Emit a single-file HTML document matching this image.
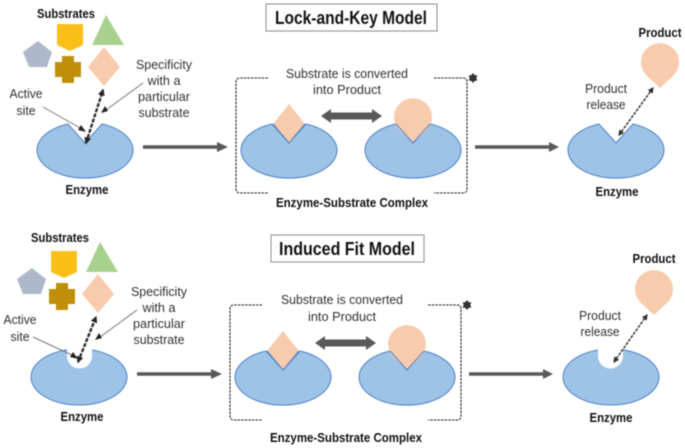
<!DOCTYPE html>
<html>
<head>
<meta charset="utf-8">
<style>
html,body{margin:0;padding:0;background:#fff;width:685px;height:448px;overflow:hidden}
svg{display:block;filter:blur(0.45px)}
text{font-family:"Liberation Sans",sans-serif;fill:#303030;text-anchor:middle}
.r{font-size:13px}
.b{font-size:13px;font-weight:bold;fill:#111}
.t{font-size:18px;font-weight:bold;fill:#111}
</style>
</head>
<body>
<svg width="685" height="448" viewBox="0 0 685 448" xmlns="http://www.w3.org/2000/svg">
<defs>
  <marker id="k" viewBox="0 0 10 10" refX="8" refY="5" markerWidth="3" markerHeight="3" orient="auto-start-reverse"><path d="M0,0L10,5L0,10Z" fill="#262626"/></marker>
  <marker id="k2" viewBox="0 0 10 10" refX="8" refY="5" markerWidth="4" markerHeight="4" orient="auto-start-reverse"><path d="M0,0L10,5L0,10Z" fill="#303030"/></marker>
  <path id="vE" d="M0,-7L-17,-26A48 28 0 1 0 17,-26Z" fill="#9DC3E6" stroke="#4F81C7" stroke-width="1"/>
  <path id="drop" d="M0,25L-14,12A19 19 0 1 1 14,12Z" fill="#F8CBAD"/>
  <g id="subs">
    <path d="M57,24H83V45L70,51L57,45Z" fill="#FBBF1A"/>
    <path d="M106,15L124,45H92Z" fill="#A9D18E"/>
    <path d="M38,41L52,52L47,67H29L23,52Z" fill="#ADB9CA"/>
    <path d="M62,56H74V62H81V77H74V83H62V77H55V62H62Z" fill="#BF8F0A"/>
    <path d="M104,47L120,67L104,86L88,67Z" fill="#F8CBAD"/>
  </g>
  <g id="arrows" fill="none">
    <path d="M143,147H219" stroke="#595959" stroke-width="3.6"/><path d="M217,142L228,147L217,152Z" fill="#595959"/>
    <path d="M475,147H550" stroke="#595959" stroke-width="3.6"/><path d="M549,142L559,147L549,152Z" fill="#595959"/>
    <path d="M329,116H374" stroke="#595959" stroke-width="7"/>
    <path d="M321,116L331,109V123Z" fill="#595959"/><path d="M382,116L372,109V123Z" fill="#595959"/>
  </g>
  <g id="brk" fill="none" stroke="#262626" stroke-width="1.1" stroke-dasharray="2.6 1">
    <path d="M268,78H240Q236,78 236,82V189Q236,193 240,193H268"/>
    <path d="M434,78H463Q467,78 467,82V189Q467,193 463,193H434"/>
  </g>
  <path id="star" d="M0,-5L1.7,-2.9L4.4,-2.5L3.3,0L4.4,2.5L1.7,2.9L0,5L-1.7,2.9L-4.4,2.5L-3.3,0L-4.4,-2.5L-1.7,-2.9Z" fill="#333"/>
</defs>

<!-- TOP -->
<use href="#subs"/>
<use href="#vE" x="85" y="150"/>
<use href="#vE" x="289" y="150"/>
<use href="#vE" x="413" y="150"/>
<use href="#vE" x="616" y="150"/>
<path d="M289,104L305,124L289,143L273,124Z" fill="#F8CBAD"/>
<path d="M273,124L289,143L305,124" fill="none" stroke="#4F81C7" stroke-width="1"/>
<use href="#drop" x="413" y="118"/>
<path d="M396,124L413,143L430,124" fill="none" stroke="#4F81C7" stroke-width="1"/>
<use href="#drop" x="660" y="63"/>
<use href="#arrows"/>
<use href="#brk"/>
<use href="#star" x="473" y="78"/>
<line x1="86" y1="143" x2="103" y2="90" stroke="#262626" stroke-width="2.3" stroke-dasharray="4 1.4" marker-end="url(#k)" marker-start="url(#k)"/>
<line x1="43" y1="107" x2="82" y2="129" stroke="#777" stroke-width="1"/><path d="M86,132L78,130L81,125Z" fill="#222"/>
<line x1="143" y1="83" x2="106" y2="110" stroke="#777" stroke-width="1"/><path d="M101,113L105,106L108,111Z" fill="#222"/>
<line x1="619" y1="135" x2="653" y2="88" stroke="#333" stroke-width="1.5" stroke-dasharray="3 1.2" marker-end="url(#k2)" marker-start="url(#k2)"/>
<rect x="266" y="4" width="171" height="27" fill="#fff" stroke="#8c8c8c" stroke-width="1"/>
<text class="t" x="351" y="24" textLength="152" lengthAdjust="spacingAndGlyphs">Lock-and-Key Model</text>
<text class="b" x="66" y="18" textLength="58" lengthAdjust="spacingAndGlyphs">Substrates</text>
<text class="r" x="26" y="98" textLength="33" lengthAdjust="spacingAndGlyphs">Active</text>
<text class="r" x="26" y="115" textLength="19" lengthAdjust="spacingAndGlyphs">site</text>
<text class="r" x="164" y="69" textLength="56" lengthAdjust="spacingAndGlyphs">Specificity</text>
<text class="r" x="164" y="85" textLength="33" lengthAdjust="spacingAndGlyphs">with a</text>
<text class="r" x="164" y="101" textLength="52" lengthAdjust="spacingAndGlyphs">particular</text>
<text class="r" x="164" y="117" textLength="51" lengthAdjust="spacingAndGlyphs">substrate</text>
<text class="b" x="87" y="194" textLength="43" lengthAdjust="spacingAndGlyphs">Enzyme</text>
<text class="r" x="347" y="78" textLength="122" lengthAdjust="spacingAndGlyphs">Substrate is converted</text>
<text class="r" x="347" y="94" textLength="68" lengthAdjust="spacingAndGlyphs">into Product</text>
<text class="b" x="352" y="207" textLength="152" lengthAdjust="spacingAndGlyphs">Enzyme-Substrate Complex</text>
<text class="b" x="660" y="37" textLength="43" lengthAdjust="spacingAndGlyphs">Product</text>
<text class="r" x="606" y="93" textLength="42" lengthAdjust="spacingAndGlyphs">Product</text>
<text class="r" x="606" y="109" textLength="39" lengthAdjust="spacingAndGlyphs">release</text>
<text class="b" x="617" y="196" textLength="43" lengthAdjust="spacingAndGlyphs">Enzyme</text>

<!-- BOTTOM -->
<g transform="translate(-6,227)">
  <use href="#subs"/>
  <ellipse cx="85" cy="150" rx="48" ry="28" fill="#9DC3E6" stroke="#4F81C7" stroke-width="1"/>
  <use href="#vE" x="289" y="150"/>
  <use href="#vE" x="413" y="150"/>
  <ellipse cx="617" cy="150" rx="48" ry="28" fill="#9DC3E6" stroke="#4F81C7" stroke-width="1"/>
  <path d="M289,104L305,124L289,143L273,124Z" fill="#F8CBAD"/>
  <path d="M273,124L289,143L305,124" fill="none" stroke="#4F81C7" stroke-width="1"/>
  <use href="#drop" x="413" y="118"/>
  <path d="M396,124L413,143L430,124" fill="none" stroke="#4F81C7" stroke-width="1"/>
  <use href="#drop" x="660" y="63"/>
  <path d="M73,120V129A12.5 12.5 0 0 0 98,129V120Z" fill="#fff"/>
  <path d="M604,120V129A12.5 12.5 0 0 0 629,129V120Z" fill="#fff"/>
  <use href="#arrows"/>
  <use href="#brk"/>
  <use href="#star" x="473" y="78"/>
  <line x1="84" y1="135" x2="102" y2="90" stroke="#262626" stroke-width="2.3" stroke-dasharray="4 1.4" marker-end="url(#k)" marker-start="url(#k)"/>
  <line x1="39" y1="110" x2="80" y2="129" stroke="#777" stroke-width="1"/><path d="M84,132L76,130L79,125Z" fill="#222"/>
  <line x1="143" y1="83" x2="106" y2="110" stroke="#777" stroke-width="1"/><path d="M101,113L105,106L108,111Z" fill="#222"/>
  <line x1="620" y1="135" x2="653" y2="88" stroke="#333" stroke-width="1.5" stroke-dasharray="3 1.2" marker-end="url(#k2)" marker-start="url(#k2)"/>
</g>
<rect x="271" y="235" width="153" height="27" fill="#fff" stroke="#8c8c8c" stroke-width="1"/>
<text class="t" x="347" y="255" textLength="136" lengthAdjust="spacingAndGlyphs">Induced Fit Model</text>
<text class="b" x="60" y="242" textLength="58" lengthAdjust="spacingAndGlyphs">Substrates</text>
<text class="r" x="20" y="324" textLength="33" lengthAdjust="spacingAndGlyphs">Active</text>
<text class="r" x="20" y="341" textLength="19" lengthAdjust="spacingAndGlyphs">site</text>
<text class="r" x="159" y="296" textLength="56" lengthAdjust="spacingAndGlyphs">Specificity</text>
<text class="r" x="159" y="312" textLength="33" lengthAdjust="spacingAndGlyphs">with a</text>
<text class="r" x="159" y="328" textLength="52" lengthAdjust="spacingAndGlyphs">particular</text>
<text class="r" x="159" y="344" textLength="51" lengthAdjust="spacingAndGlyphs">substrate</text>
<text class="b" x="82" y="421" textLength="43" lengthAdjust="spacingAndGlyphs">Enzyme</text>
<text class="r" x="342" y="304" textLength="122" lengthAdjust="spacingAndGlyphs">Substrate is converted</text>
<text class="r" x="342" y="321" textLength="68" lengthAdjust="spacingAndGlyphs">into Product</text>
<text class="b" x="346" y="442" textLength="152" lengthAdjust="spacingAndGlyphs">Enzyme-Substrate Complex</text>
<text class="b" x="654" y="263" textLength="43" lengthAdjust="spacingAndGlyphs">Product</text>
<text class="r" x="600" y="320" textLength="42" lengthAdjust="spacingAndGlyphs">Product</text>
<text class="r" x="600" y="336" textLength="39" lengthAdjust="spacingAndGlyphs">release</text>
<text class="b" x="611" y="422" textLength="43" lengthAdjust="spacingAndGlyphs">Enzyme</text>
</svg>
</body>
</html>
